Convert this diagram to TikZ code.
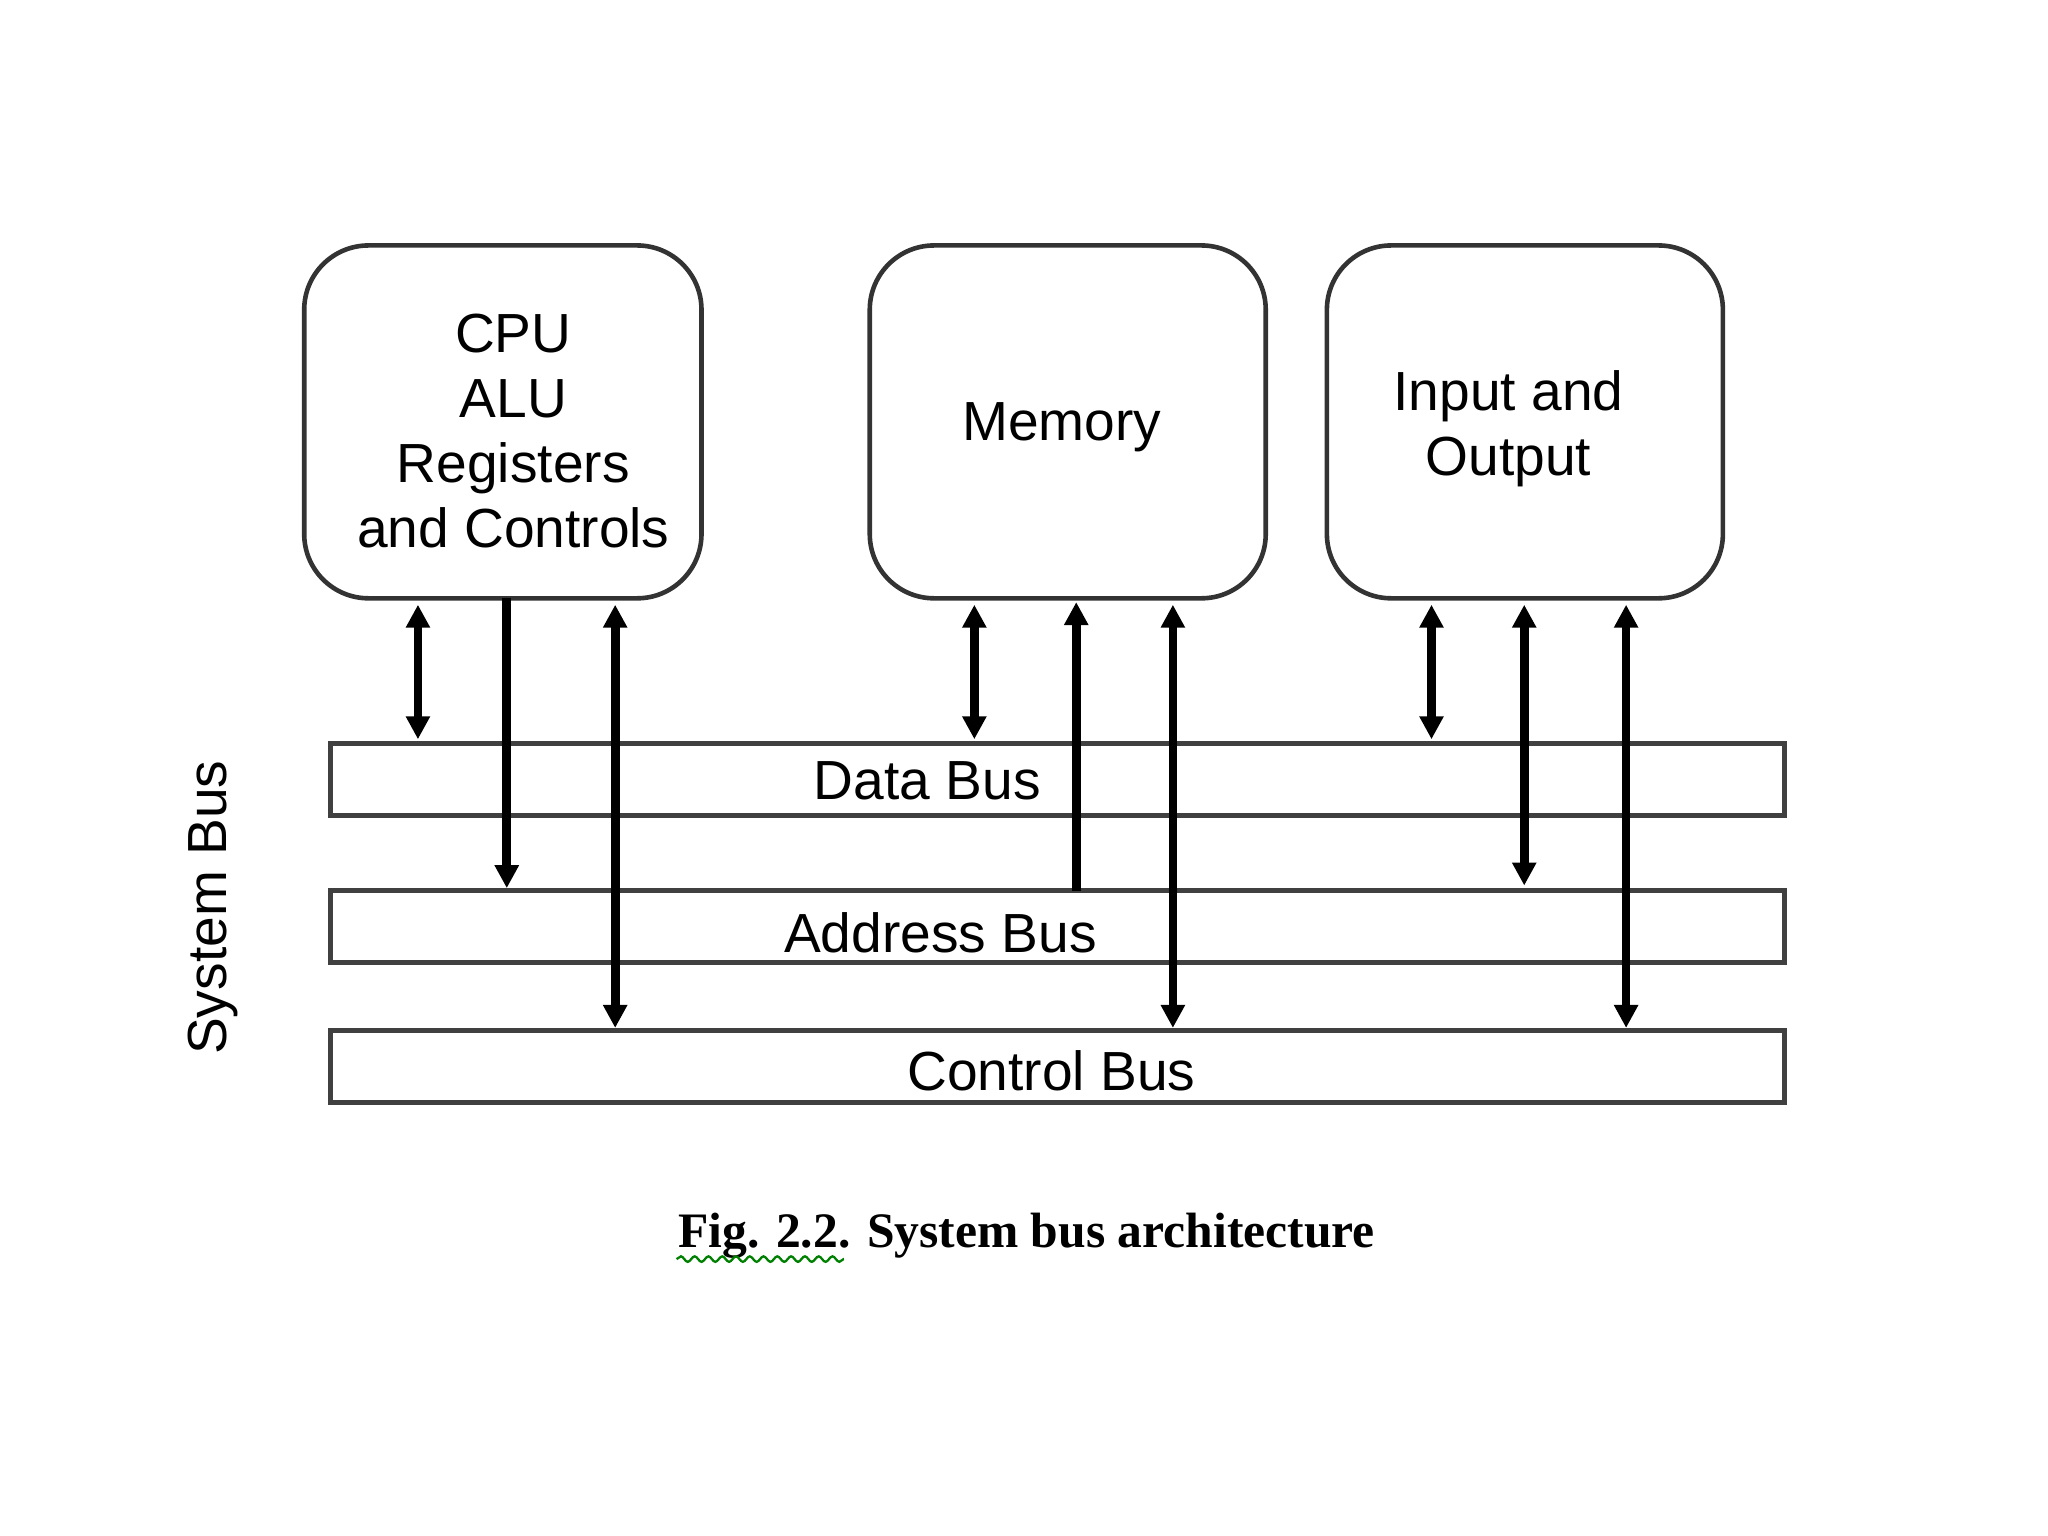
\documentclass[tikz,border=0pt]{standalone}
\usepackage{fontspec}
\setmainfont{Liberation Sans}
\newfontfamily\capfont{Liberation Serif}
\usetikzlibrary{arrows.meta,decorations.pathmorphing}
\begin{document}
\begin{tikzpicture}[x=0.01cm,y=-0.01cm,
  box/.style={draw=black!80,line width=1pt,rounded corners=14pt,inner sep=0pt},
  bus/.style={draw=black!75,line width=1.1pt,inner sep=0pt},
  lab/.style={font=\fontsize{12}{14.2}\selectfont},
  ar/.style={line width=1.9pt,black},
  dbl/.style={ar,{Triangle[length=5pt,width=5pt]}-{Triangle[length=5pt,width=5pt]}},
  one/.style={ar,-{Triangle[length=5pt,width=5pt]}}]
\useasboundingbox (0,0) rectangle (1568,1176);
\node[box,minimum width=3.04cm,minimum height=2.70cm] (cpu) at (385,323) {};
\node[box,minimum width=3.03cm,minimum height=2.70cm] (mem) at (817.5,323) {};
\node[box,minimum width=3.03cm,minimum height=2.70cm] (io) at (1167.5,323) {};
\node[lab,align=center] (cput) at (393,330) {CPU\\ALU\\Registers\\and Controls};
\node[lab] (memt) at (813,327) {Memory};
\node[lab,align=center] (iot) at (1155,328) {Input and\\Output};
\node[bus,minimum width=11.13cm,minimum height=0.55cm] (db) at (809.5,596.5) {};
\node[bus,minimum width=11.13cm,minimum height=0.55cm] (ab) at (809.5,709.5) {};
\node[bus,minimum width=11.13cm,minimum height=0.55cm] (cb) at (809.5,816.5) {};
\node[lab] at (710,598) {Data Bus};
\node[lab] at (720,714) {Address Bus};
\node[lab] at (805,820) {Control Bus};
\node[lab,rotate=90] (sb) at (163,695) {System Bus};
% CPU
\coordinate (c1a) at (320,463); \coordinate (c1b) at (320,566);
\coordinate (c2a) at (388,458); \coordinate (c2b) at (388,680);
\coordinate (c3a) at (471,463); \coordinate (c3b) at (471,787);
\draw[dbl] (c1a) -- (c1b);
\draw[one] (c2a) -- (c2b);
\draw[dbl] (c3a) -- (c3b);
% Memory
\coordinate (m1a) at (746,463); \coordinate (m1b) at (746,566);
\coordinate (m2a) at (824,682); \coordinate (m2b) at (824,461);
\coordinate (m3a) at (898,463); \coordinate (m3b) at (898,787);
\draw[dbl] (m1a) -- (m1b);
\draw[one] (m2a) -- (m2b);
\draw[dbl] (m3a) -- (m3b);
% IO
\coordinate (i1a) at (1096,463); \coordinate (i1b) at (1096,566);
\coordinate (i2a) at (1167,463); \coordinate (i2b) at (1167,678);
\coordinate (i3a) at (1245,463); \coordinate (i3b) at (1245,787);
\draw[dbl] (i1a) -- (i1b);
\draw[dbl] (i2a) -- (i2b);
\draw[dbl] (i3a) -- (i3b);
\node[font=\capfont\bfseries\fontsize{10.8}{13}\selectfont] (cap) at (786,946) {Fig. 2.2. System bus architecture};
\draw[green!50!black,line width=0.5pt,decorate,decoration={snake,amplitude=0.6pt,segment length=3pt}] (518,964) -- (646,964);
\end{tikzpicture}
\end{document}
